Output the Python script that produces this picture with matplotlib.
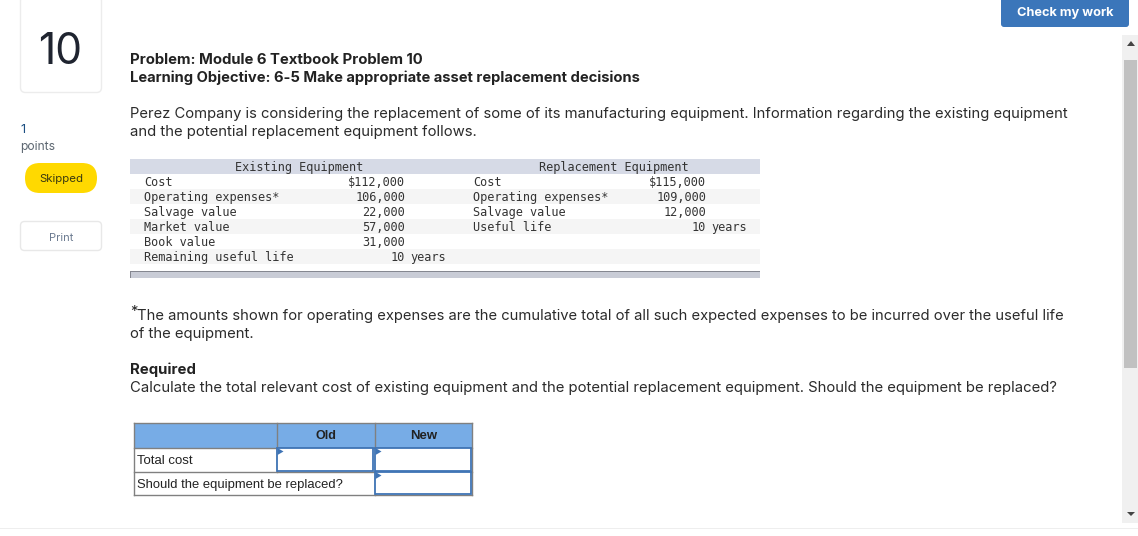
import matplotlib
matplotlib.use("Agg")
import matplotlib.pyplot as plt
from matplotlib.patches import Rectangle, FancyBboxPatch, Polygon

W, H = 1138, 536
SANS = "Inter"
MONO = "DejaVu Sans Mono"
ARIAL = "Liberation Sans"

title_lines = ["Problem: Module 6 Textbook Problem 10",
               "Learning Objective: 6-5 Make appropriate asset replacement decisions"]
intro_lines = ["Perez Company is considering the replacement of some of its manufacturing equipment. Information regarding the existing equipment",
               "and the potential replacement equipment follows."]
note_lines = ["The amounts shown for operating expenses are the cumulative total of all such expected expenses to be incurred over the useful life",
              "of the equipment."]
required_head = "Required"
required_text = "Calculate the total relevant cost of existing equipment and the potential replacement equipment. Should the equipment be replaced?"

existing_title = "Existing Equipment"
existing_labels = ["Cost", "Operating expenses*", "Salvage value", "Market value", "Book value", "Remaining useful life"]
existing_values = ["$112,000", "106,000", "22,000", "57,000", "31,000", "10"]
replacement_title = "Replacement Equipment"
replacement_labels = ["Cost", "Operating expenses*", "Salvage value", "Useful life"]
replacement_values = ["$115,000", "109,000", "12,000", "10"]
unit = "years"
answer_cols = ["Old", "New"]
answer_rows = ["Total cost", "Should the equipment be replaced?"]

fig = plt.figure(figsize=(W / 100, H / 100), dpi=100, facecolor="white")
ax = fig.add_axes([0, 0, 1, 1])
ax.set_xlim(0, W)
ax.set_ylim(H, 0)
ax.axis("off")
PT = 0.72


def rect(x0, y0, x1, y1, fc, ec="none", lw=0, z=1):
    ax.add_patch(Rectangle((x0, y0), x1 - x0, y1 - y0, facecolor=fc, edgecolor=ec, linewidth=lw, zorder=z))


def rrect(x0, y0, x1, y1, r, fc, ec="none", lw=1, z=1):
    ax.add_patch(FancyBboxPatch((x0 + r, y0 + r), x1 - x0 - 2 * r, y1 - y0 - 2 * r,
                                boxstyle=f"round,pad={r},rounding_size={r}",
                                facecolor=fc, edgecolor=ec, linewidth=lw, zorder=z))


def text(x, y, s, size, family=SANS, color="#2b2b2b", ha="left", weight="normal", fit=None):
    t = ax.text(x, y + 0.36 * size, s, fontsize=size * PT, family=family, color=color, ha=ha, va="baseline",
                weight=weight, zorder=5)
    if fit is not None:
        r = fig.canvas.get_renderer()
        t.set_fontsize(t.get_fontsize() * fit / t.get_window_extent(r).width)
    return t


# Left rail
rrect(20.5, -4, 101.5, 92.5, 5, "white", "#ececec", 1)
text(60.5, 47, "10", 46, color="#1f2430", ha="center", fit=44)
text(20, 128, "1", 13, color="#1c4f82")
text(20, 145, "points", 13, color="#5c6670", fit=35)
rrect(25, 163, 97, 193, 15, "#ffd900")
text(61, 178, "Skipped", 11.5, color="#3a3a10", ha="center", fit=44)
rrect(20.5, 221.5, 101.5, 250.5, 4, "white", "#e8e8e8", 1)
text(61, 237, "Print", 11.5, color="#6b7a90", ha="center", fit=24)

# Button and scrollbar
rrect(1001, -4, 1129, 27, 3, "#3b76ba")
text(1065, 11, "Check my work", 13.5, color="white", ha="center", weight="bold", fit=97)
rect(1122, 35, 1138, 523, "#f0f0f0")
rect(1124, 60, 1137, 368, "#c1c1c1", z=2)
ax.add_patch(Polygon([(1127, 46), (1135, 46), (1131, 41)], facecolor="#444444", zorder=3))
ax.add_patch(Polygon([(1127, 512), (1135, 512), (1131, 516)], facecolor="#444444", zorder=3))
rect(0, 528, W, 529, "#eeeeee")

# Headings and paragraphs
text(130, 59, title_lines[0], 15, color="#222222", weight="bold", fit=293)
text(130, 77, title_lines[1], 15, color="#222222", weight="bold", fit=510)
text(130, 113, intro_lines[0], 15, fit=937)
text(130, 131, intro_lines[1], 15, fit=347)
text(130, 311, "*", 15, color="#2b2b2b")
text(137, 315, note_lines[0], 15, fit=928)
text(130, 333, note_lines[1], 15, fit=124)
text(130, 369, required_head, 15, color="#222222", weight="bold", fit=66)
text(130, 387, required_text, 15, fit=928)

# Data table
TOP, ROW = 159, 15
rect(130, TOP, 760, TOP + ROW, "#d6dae6")
for i in (1, 3, 5):
    rect(130, TOP + ROW * (i + 1), 760, TOP + ROW * (i + 2), "#f5f5f5")
rect(130, 271, 760, 278, "#c9ccd6")
rect(130, 271, 760, 272, "#858790", z=2)
rect(130, 271, 131, 278, "#858790", z=2)

MS = 11.9
text(299, TOP + 8, existing_title, MS, MONO, "#333333", "center")
text(614, TOP + 8, replacement_title, MS, MONO, "#333333", "center")


def column(labels, values, x_label, x_value):
    last = len(labels) - 1
    for i, (lab, val) in enumerate(zip(labels, values)):
        y = TOP + ROW * (i + 1) + 8
        text(x_label, y, lab, MS, MONO, "#333333")
        text(x_value, y, val, MS, MONO, "#333333", "right")
        if i == last:
            text(x_value + 5.5, y, unit, MS, MONO, "#333333")


column(existing_labels, existing_values, 144.5, 405)
column(replacement_labels, replacement_values, 473.5, 706)

# Answer table
GREY = "#808080"
BLUE = "#3f74b5"
rect(134.5, 422.5, 472.5, 447.5, "#77ace6")
for x0, x1, y0, y1 in [(134, 472, 422, 422), (134, 472, 447, 447), (134, 472, 471, 471),
                       (134, 472, 494, 494), (134, 134, 422, 494), (472, 472, 422, 494),
                       (375, 375, 422, 494), (277, 277, 422, 471)]:
    ax.plot([x0 + 0.5, x1 + 0.5], [y0 + 0.5, y1 + 0.5], color=GREY, lw=1.0, zorder=3, solid_capstyle="projecting")
text(326, 434, answer_cols[0], 13.5, ARIAL, "#222222", "center", "bold", fit=21)
text(424, 434, answer_cols[1], 13.5, ARIAL, "#222222", "center", "bold", fit=27)
text(137, 459, answer_rows[0], 13.5, ARIAL, "#222222", fit=56)
text(137, 483, answer_rows[1], 13.5, ARIAL, "#222222", fit=205)
for x0, y0, x1, y1 in [(277.5, 448, 373.5, 471), (375.5, 448, 471.5, 471), (375.5, 472, 471.5, 494)]:
    ax.add_patch(Rectangle((x0, y0), x1 - x0, y1 - y0, facecolor="white", edgecolor=BLUE, linewidth=1.3, zorder=4))
    ax.add_patch(Polygon([(x0, y0), (x0 + 6, y0 + 3.5), (x0, y0 + 7)], facecolor=BLUE, zorder=5))

fig.savefig("out.png", dpi=100, facecolor="white")
